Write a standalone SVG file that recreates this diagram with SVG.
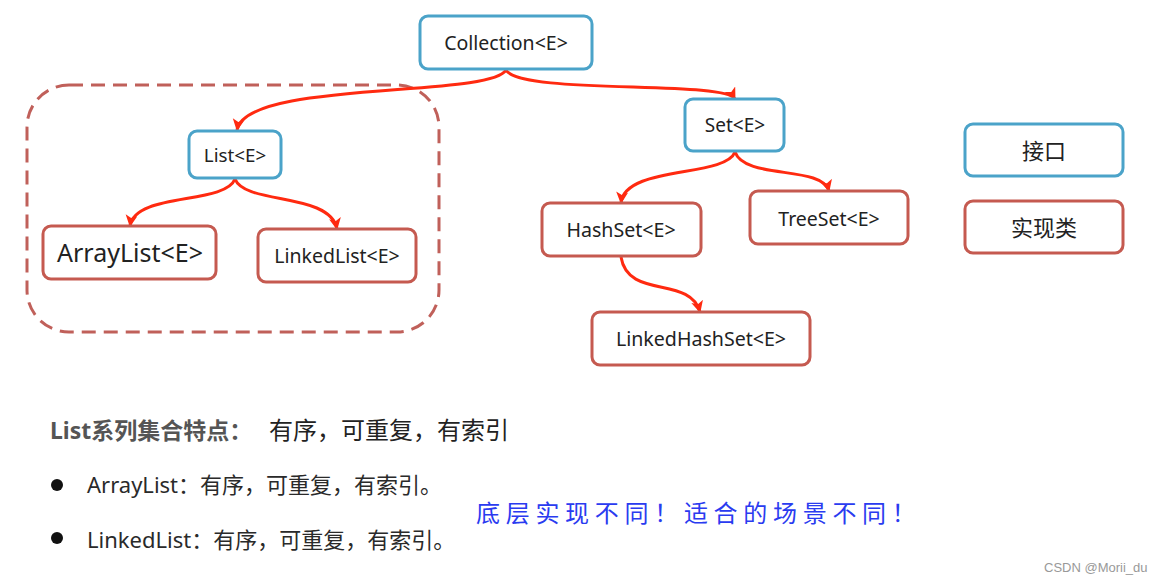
<svg xmlns="http://www.w3.org/2000/svg" width="1161" height="583" viewBox="0 0 1161 583">
<style>
.iface{fill:#fff;stroke:#4ba3c9;stroke-width:3}
.impl{fill:#fff;stroke:#c55a50;stroke-width:3}
.t{font-family:"Noto Sans","Noto Sans CJK SC",sans-serif;fill:#222;text-anchor:middle;dominant-baseline:central}
.c{fill:none;stroke:#ff2a10;stroke-width:3}
.b{font-family:"Noto Sans","Noto Sans CJK SC",sans-serif;fill:#2a2a2a;font-size:22px}
</style>
<defs>
<marker id="ah" markerUnits="userSpaceOnUse" markerWidth="14" markerHeight="14" refX="11" refY="6" orient="auto">
<path d="M0,0 L12,6 L0,12 L3,6 Z" fill="#ff2a10"/>
</marker>
</defs>
<rect x="27" y="85" width="412" height="247" rx="42" fill="none" stroke="#c0605a" stroke-width="3" stroke-dasharray="14 8"/>
<g id="connectors">
<path class="c" marker-end="url(#ah)" d="M506,70 C490,98 245,80 237,130"/>
<path class="c" marker-end="url(#ah)" d="M506,70 C520,95 725,80 735,99"/>
<path class="c" marker-end="url(#ah)" d="M235,179 C225,205 135,192 130,226"/>
<path class="c" marker-end="url(#ah)" d="M235,179 C245,205 330,192 337,229"/>
<path class="c" marker-end="url(#ah)" d="M735,152 C725,178 625,165 621,203"/>
<path class="c" marker-end="url(#ah)" d="M735,152 C745,180 822,165 829,191"/>
<path class="c" marker-end="url(#ah)" d="M621,257 C628,300 690,275 700,312"/>
</g>
<g id="collection"><rect class="iface" x="420" y="16" width="172" height="53" rx="8"/><text class="t" x="506" y="42" font-size="19.5">Collection&lt;E&gt;</text></g>
<g id="set"><rect class="iface" x="685" y="99" width="99" height="52" rx="8"/><text class="t" x="735" y="125" font-size="19">Set&lt;E&gt;</text></g>
<g id="list"><rect class="iface" x="189" y="131" width="92" height="47" rx="8"/><text class="t" x="235" y="155" font-size="18.8">List&lt;E&gt;</text></g>
<g id="arraylist"><rect class="impl" x="43" y="226" width="173" height="53" rx="8"/><text class="t" x="130" y="252" font-size="25">ArrayList&lt;E&gt;</text></g>
<g id="linkedlist"><rect class="impl" x="258" y="229" width="158" height="53" rx="8"/><text class="t" x="337" y="255" font-size="19.5">LinkedList&lt;E&gt;</text></g>
<g id="hashset"><rect class="impl" x="542" y="203" width="159" height="53" rx="8"/><text class="t" x="621" y="229" font-size="19.6">HashSet&lt;E&gt;</text></g>
<g id="treeset"><rect class="impl" x="750" y="191" width="158" height="53" rx="8"/><text class="t" x="829" y="218" font-size="19.5">TreeSet&lt;E&gt;</text></g>
<g id="linkedhashset"><rect class="impl" x="592" y="312" width="218" height="53" rx="8"/><text class="t" x="701" y="338" font-size="19.6">LinkedHashSet&lt;E&gt;</text></g>
<g id="legend-iface"><rect class="iface" x="965" y="124" width="158" height="52" rx="8"/><text class="t" x="1044" y="150" font-size="22">接口</text></g>
<g id="legend-impl"><rect class="impl" x="965" y="201" width="158" height="52" rx="8"/><text class="t" x="1044" y="227" font-size="22">实现类</text></g>
<g id="notes">
<text x="50" y="439" font-family="'Noto Sans','Noto Sans CJK SC',sans-serif" font-size="23" font-weight="bold" fill="#555">List系列集合特点：</text>
<text x="269" y="439" font-family="'Noto Sans','Noto Sans CJK SC',sans-serif" font-size="24" fill="#222">有序，可重复，有索引</text>
<circle cx="57" cy="485" r="6" fill="#111"/>
<text class="b" x="87" y="493">ArrayList：有序，可重复，有索引。</text>
<circle cx="57" cy="538" r="6" fill="#111"/>
<text class="b" x="87" y="548">LinkedList：有序，可重复，有索引。</text>
<text x="476" y="522" font-family="'Noto Sans CJK SC',sans-serif" font-size="24" letter-spacing="5.7" fill="#2a3bf0">底层实现不同！适合的场景不同！</text>
<text x="1044" y="572" font-family="'Liberation Sans',sans-serif" font-size="13" fill="#999">CSDN @Morii_du</text>
</g>
</svg>
